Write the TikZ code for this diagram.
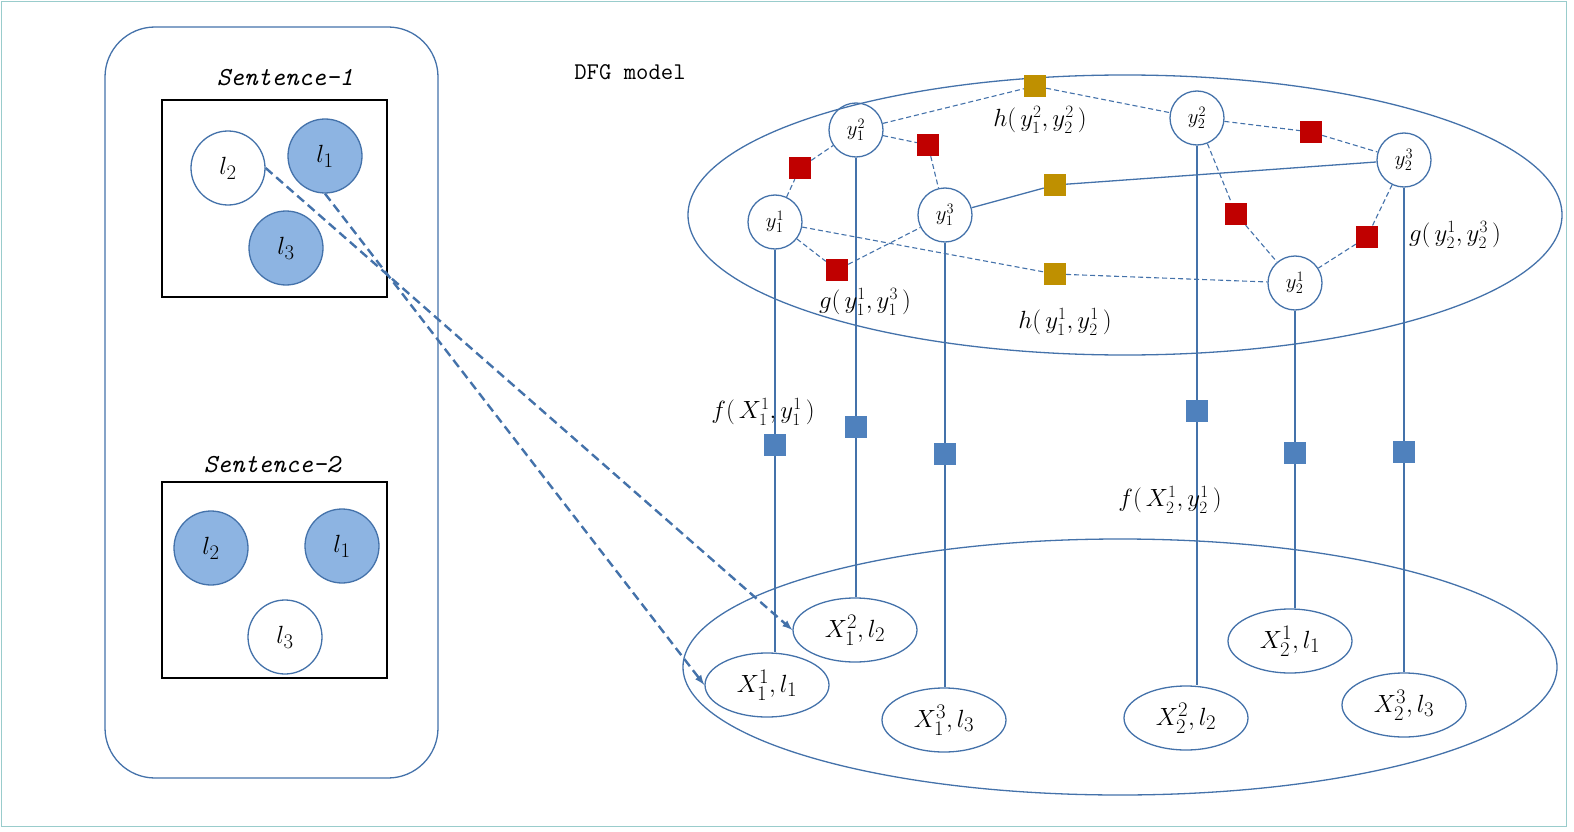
\documentclass[tikz,border=0pt]{standalone}
\usepackage{amsmath}
\usetikzlibrary{shapes.geometric}
\definecolor{lineblue}{RGB}{68,114,170}
\definecolor{fillblue}{RGB}{141,180,226}
\definecolor{facblue}{RGB}{79,129,189}
\definecolor{facred}{RGB}{192,0,0}
\definecolor{facgold}{RGB}{191,144,0}
\tikzset{
  var/.style={circle,draw=lineblue,line width=1.3pt,minimum size=54pt,inner sep=0pt,font=\fontsize{22}{24}\selectfont},
  obs/.style={circle,draw=lineblue,line width=1.3pt,minimum size=74pt,inner sep=0pt,font=\fontsize{30}{32}\selectfont},
  xnode/.style={ellipse,draw=lineblue,line width=1.3pt,minimum width=124pt,minimum height=64pt,inner sep=0pt,font=\fontsize{28}{30}\selectfont},
  fac/.style={rectangle,minimum size=22pt,inner sep=0pt},
  lab/.style={font=\fontsize{24}{26}\selectfont},
  link/.style={lineblue,line width=1.3pt},
  dlink/.style={lineblue,line width=1.1pt,dash pattern=on 5pt off 3pt}
}
\begin{document}
\begin{tikzpicture}[x=1pt,y=-1pt]
  \useasboundingbox (0,0) rectangle (1574,832);
  \draw[teal!40,thick] (1,1) rectangle (1566,826);
  % sentences
  \draw[lineblue,line width=1.3pt,rounded corners=50pt] (105,27) rectangle (438,778);
  \node[font=\fontsize{26}{28}\selectfont\ttfamily\itshape] (s1) at (285,78) {Sentence-1};
  \draw[very thick] (162,100) rectangle (387,297);
  \node[obs,fill=white] (a2) at (228,168) {$l_2$};
  \node[obs,fill=fillblue] (a1) at (325,156) {$l_1$};
  \node[obs,fill=fillblue] (a3) at (286,248) {$l_3$};
  \node[font=\fontsize{26}{28}\selectfont\ttfamily\itshape] (s2) at (272,465) {Sentence-2};
  \draw[very thick] (162,482) rectangle (387,678);
  \node[obs,fill=fillblue] (b2) at (211,548) {$l_2$};
  \node[obs,fill=fillblue] (b1) at (342,546) {$l_1$};
  \node[obs,fill=white] (b3) at (285,637) {$l_3$};
  % DFG model
  \node[font=\fontsize{24}{26}\selectfont\ttfamily] (title) at (630,72) {DFG model};
  \draw[lineblue,line width=1.3pt] (1125,215) ellipse (437 and 140);
  \draw[lineblue,line width=1.3pt] (1120,667) ellipse (437 and 128);
  \node[var] (y12) at (856,130) {$y_1^2$};
  \node[var] (y11) at (775,222) {$y_1^1$};
  \node[var] (y13) at (945,215) {$y_1^3$};
  \node[var] (y22) at (1197,118) {$y_2^2$};
  \node[var] (y23) at (1404,160) {$y_2^3$};
  \node[var] (y21) at (1295,283) {$y_2^1$};
  \node[xnode] (x11) at (767,685) {$X_1^1,l_1$};
  \node[xnode] (x12) at (855,630) {$X_1^2,l_2$};
  \node[xnode] (x13) at (944,720) {$X_1^3,l_3$};
  \node[xnode] (x22) at (1186,718) {$X_2^2,l_2$};
  \node[xnode] (x21) at (1290,641) {$X_2^1,l_1$};
  \node[xnode] (x23) at (1404,705) {$X_2^3,l_3$};
  % unary factors
  \foreach \y/\x/\py in {y11/x11/445,y12/x12/427,y13/x13/454,y22/x22/411,y21/x21/453,y23/x23/452}{
    \draw[link] (\y) -- (\y |- \x.north);
    \node[fac,fill=facblue] (f\y) at (\y |- 0,\py) {};
  }
  % pairwise factors
  \foreach \a/\b/\px/\py in {y11/y12/800/168,y12/y13/928/145,y11/y13/837/270,y22/y23/1311/132,y22/y21/1236/214,y23/y21/1367/237}{
    \node[fac,fill=facred] (g\a\b) at (\px,\py) {};
    \draw[dlink] (\a) -- (g\a\b) -- (\b);
  }
  \foreach \a/\b/\px/\py/\st in {y12/y22/1035/86/dlink,y13/y23/1055/185/link,y11/y21/1055/274/dlink}{
    \node[fac,fill=facgold] (h\a\b) at (\px,\py) {};
    \draw[\st] (\a) -- (h\a\b) -- (\b);
  }
  % labels
  \node[lab] (lh1) at (1040,120) {$h(\,y_1^2,y_2^2\,)$};
  \node[lab] (lg1) at (865,302) {$g(\,y_1^1,y_1^3\,)$};
  \node[lab] (lh2) at (1065,322) {$h(\,y_1^1,y_2^1\,)$};
  \node[lab] (lg2) at (1455,235) {$g(\,y_2^1,y_2^3\,)$};
  \node[lab] (lf1) at (763,412) {$f(\,X_1^1,y_1^1\,)$};
  \node[lab] (lf2) at (1170,500) {$f(\,X_2^1,y_2^1\,)$};
  % mapping
  \draw[lineblue,line width=2.4pt,dash pattern=on 9pt off 5pt,-latex] (a2.east) -- (x12.west);
  \draw[lineblue,line width=2.4pt,dash pattern=on 9pt off 5pt,-latex] (a1.south) -- (x11.west);
\end{tikzpicture}
\end{document}
